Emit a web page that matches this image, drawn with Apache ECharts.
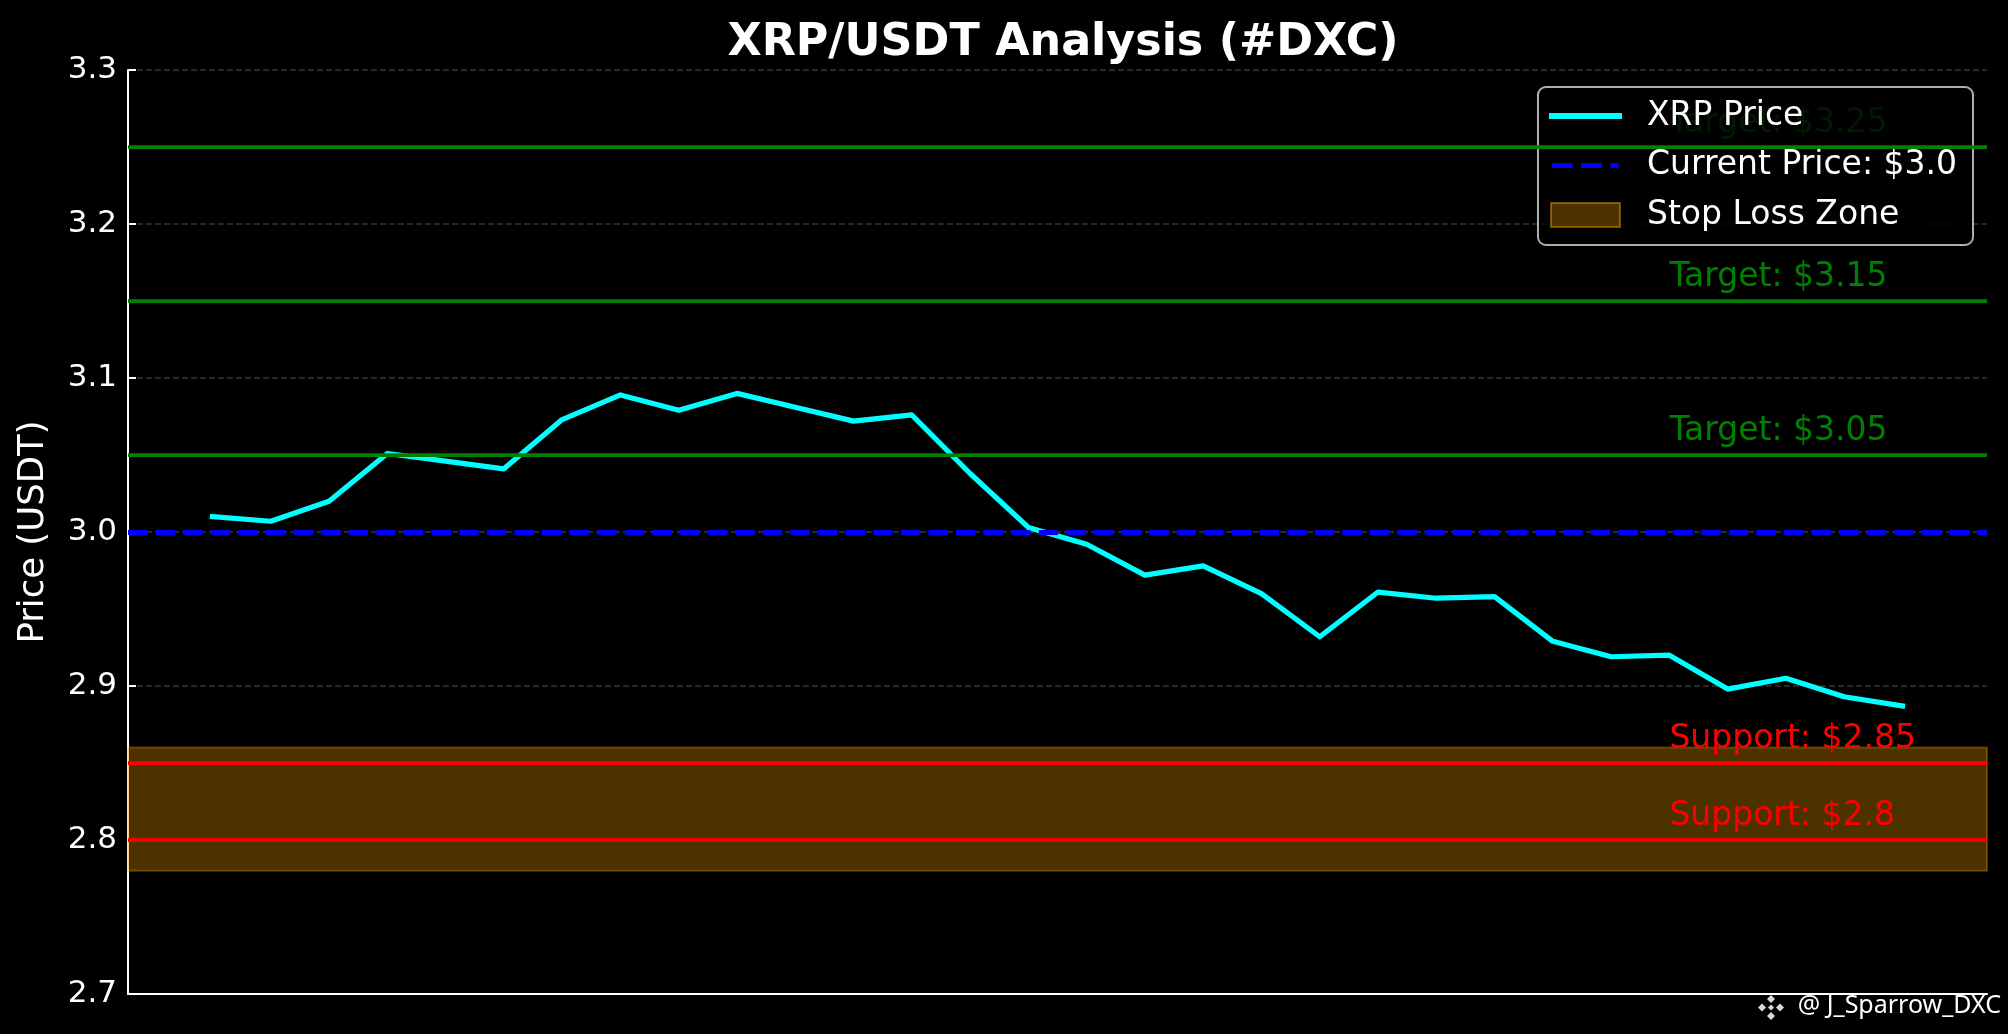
<!DOCTYPE html>
<html><head><meta charset="utf-8">
<script src="https://cdn.jsdelivr.net/npm/echarts@6/dist/echarts.min.js"></script>
<style>html,body{margin:0;padding:0;background:#000;} #c{width:2008px;height:1034px;}</style>
</head><body><div id="c"></div>
<script>
// ---- data ----
const prices = [3.010, 3.007, 3.020, 3.051, 3.046, 3.041, 3.073, 3.089, 3.079, 3.090,
                3.081, 3.072, 3.076, 3.038, 3.003, 2.992, 2.972, 2.978, 2.960, 2.932,
                2.961, 2.957, 2.958, 2.929, 2.919, 2.920, 2.898, 2.905, 2.893, 2.887];
const currentPrice = 3.0;
const targets = [3.05, 3.15, 3.25];
const supports = [2.85, 2.80];
const stopLossZone = [2.78, 2.86];
const yTicks = [2.7, 2.8, 2.9, 3.0, 3.1, 3.2, 3.3];
const labelAtIndex = 25;   // point index where level labels start
const labelLift = 0.01;    // labels sit just above their level

const n = prices.length;
const xPad = (n - 1) * 0.05;
const FONT = 'DejaVu Sans';

const chart = echarts.init(document.getElementById('c'), null, {renderer: 'canvas'});

const levelLines = targets.map(v => ({yAxis: v, lineStyle: {color: '#008000', width: 3.75, type: 'solid'}}))
  .concat(supports.map(v => ({yAxis: v, lineStyle: {color: '#ff0000', width: 3.75, type: 'solid'}})));

const levelLabels = targets.map(v => ({value: [labelAtIndex, v + labelLift], label: {color: '#008000', formatter: 'Target: $' + v}}))
  .concat(supports.map(v => ({value: [labelAtIndex, v + labelLift], label: {color: '#ff0000', formatter: 'Support: $' + v}})));

const option = {
  backgroundColor: '#000',
  animation: false,
  title: {
    text: 'XRP/USDT Analysis (#DXC)',
    left: 1058, top: 16, textAlign: 'center',
    textStyle: {color: '#fff', fontSize: 44.4, fontWeight: 'bold', fontFamily: FONT}
  },
  grid: {left: 128, right: 21, top: 70, bottom: 40, containLabel: false},
  legend: {
    orient: 'vertical', right: 35, top: 87,
    padding: [12, 16, 13, 10], itemGap: 15.5, itemWidth: 73, itemHeight: 24,
    backgroundColor: 'rgba(0,0,0,0.8)', borderColor: 'rgba(204,204,204,0.85)', borderWidth: 2, borderRadius: 8,
    textStyle: {color: '#fff', fontSize: 33, fontFamily: FONT, lineHeight: 34, padding: [0, 0, 0, 20]},
    selectedMode: false,
    data: [
      {name: 'XRP Price', icon: 'path://M0,0M73,24M0,9H73V15H0Z', itemStyle: {color: '#00ffff'}},
      {name: 'Current Price: $3.0', icon: 'path://M0,0M73,24M3,9.5H23.7V14.5H3Z M32,9.5H53V14.5H32Z M61.3,9.5H69.7V14.5H61.3Z', itemStyle: {color: '#0000ff'}},
      {name: 'Stop Loss Zone', icon: 'path://M0,0M73,24M2,0H71V24H2Z', itemStyle: {color: 'rgba(255,165,0,0.3)', borderColor: 'rgba(255,165,0,0.45)', borderWidth: 2}}
    ]
  },
  xAxis: {
    type: 'value', min: -xPad, max: n - 1 + xPad,
    axisLine: {show: true, onZero: false, lineStyle: {color: '#fff', width: 2}},
    axisTick: {show: false}, axisLabel: {show: false}, splitLine: {show: false}
  },
  yAxis: {
    type: 'value', min: 2.7, max: 3.3, interval: 0.1,
    name: 'Price (USDT)', nameLocation: 'middle', nameGap: 76,
    nameTextStyle: {color: '#fff', fontSize: 35.5, fontFamily: FONT},
    axisLine: {show: true, onZero: false, lineStyle: {color: '#fff', width: 2}},
    axisTick: {show: true, inside: true, length: 8, lineStyle: {color: '#fff', width: 2}},
    axisLabel: {color: '#fff', fontSize: 31, fontFamily: FONT, margin: 11,
      formatter: v => { const t = yTicks.find(k => Math.abs(k - v) < 1e-6); return (t !== undefined ? t : v).toFixed(1); }},
    splitLine: {show: true, lineStyle: {color: '#363636', type: [6, 3], width: 1.5}}
  },
  series: [
    {
      name: 'Stop Loss Zone', type: 'line', data: [], z: 1, color: 'rgba(255,165,0,0.3)',
      markArea: {silent: true,
        itemStyle: {color: 'rgba(255,165,0,0.3)', borderColor: 'rgba(255,165,0,0.3)', borderWidth: 2},
        data: [[{yAxis: stopLossZone[0]}, {yAxis: stopLossZone[1]}]]}
    },
    {
      name: 'XRP Price', type: 'line', z: 2, color: '#00ffff',
      data: prices.map((v, i) => [i, v]),
      symbol: 'none', silent: true,
      lineStyle: {color: '#00ffff', width: 5.2, join: 'round', cap: 'square'}
    },
    {
      name: 'levels', type: 'line', data: [], z: 3,
      markLine: {silent: true, symbol: ['none', 'none'], label: {show: false}, data: levelLines}
    },
    {
      name: 'Current Price: $3.0', type: 'line', data: [], z: 3, color: '#0000ff',
      markLine: {silent: true, symbol: ['none', 'none'], label: {show: false},
        lineStyle: {color: '#0000ff', width: 5.2, type: [19.3, 8.3]},
        data: [{yAxis: currentPrice}]}
    },
    {
      name: 'levelLabels', type: 'scatter', z: 3, symbolSize: 0, silent: true,
      itemStyle: {opacity: 1},
      data: levelLabels,
      label: {show: true, opacity: 1, position: [0, 0], align: 'left', verticalAlign: 'bottom', offset: [0, 8],
        fontSize: 33, fontFamily: FONT, lineHeight: 33}
    }
  ],
  graphic: [
    {type: 'group', left: 1758, top: 995, children: [
      {type: 'polygon', shape: {points: [[14, 0], [18, 4], [14, 8], [10, 4]]}, style: {fill: '#d8d8d8'}},
      {type: 'polygon', shape: {points: [[5, 8.5], [9, 12.5], [5, 16.5], [1, 12.5]]}, style: {fill: '#d8d8d8'}},
      {type: 'polygon', shape: {points: [[23, 8.5], [27, 12.5], [23, 16.5], [19, 12.5]]}, style: {fill: '#d8d8d8'}},
      {type: 'polygon', shape: {points: [[14, 9.5], [17, 12.5], [14, 15.5], [11, 12.5]]}, style: {fill: '#d8d8d8'}},
      {type: 'polygon', shape: {points: [[14, 17], [18, 21], [14, 25], [10, 21]]}, style: {fill: '#d8d8d8'}}
    ]},
    {type: 'text', right: 7, top: 993, style: {text: '@ J_Sparrow_DXC', fill: '#ffffff', font: '25px "Noto Sans"'}}
  ]
};
chart.setOption(option);
</script>
</body></html>
